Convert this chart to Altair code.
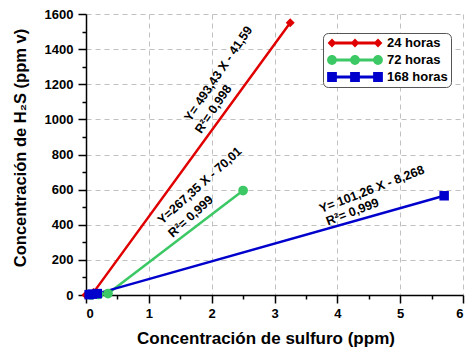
import altair as alt
import pandas as pd

# ---------------- data ----------------
series = ["24 horas", "72 horas", "168 horas"]
colors = ["#E00000", "#3CC864", "#0000CC"]
marker_shapes = ["diamond", "circle", "square"]
marker_sizes = [80, 95, 90]

x24 = [0.0, 0.07, 0.12, 3.25]
y24 = [0, 5, 15, 1550]
x72 = [0.08, 0.2, 0.35, 2.5]
y72 = [0, 3, 8, 595]
x168 = [0.05, 0.1, 0.18, 5.70]
y168 = [2, 5, 8, 565]

eq_text = ["Y= 493,43 X - 41,59", "R²= 0,998",
           "Y=267,35 X - 70,01", "R²= 0,999",
           "Y= 101,26 X - 8,268", "R²= 0,999"]
eq_x = [1.61, 1.78, 1.17, 1.34, 3.72, 3.83]
eq_y = [997, 928, 417, 342, 488, 417]
eq_angle = [304, 304, 318, 318, 339, 339]

x_major = [0, 1, 2, 3, 4, 5, 6]
x_minor = [0.5, 1.5, 2.5, 3.5, 4.5, 5.5]
y_major = [0, 200, 400, 600, 800, 1000, 1200, 1400, 1600]
y_minor = [100, 300, 500, 700, 900, 1100, 1300, 1500]

x_title = "Concentración de sulfuro (ppm)"
y_title = "Concentración de H₂S (ppm v)"

# ---------------- tables ----------------
rows = []
for s, xs, ys in zip(series, [x24, x72, x168], [y24, y72, y168]):
    for i, (xv, yv) in enumerate(zip(xs, ys)):
        rows.append({"series": s, "x": xv, "y": yv, "idx": i})
df = pd.DataFrame(rows)
ann = pd.DataFrame({"text": eq_text, "x": eq_x, "y": eq_y, "angle": eq_angle})
leg = pd.DataFrame({"series": series})

FONT = "Liberation Sans"
W, H = 377, 281

xscale = alt.Scale(domain=[0, 6], nice=False, zero=False)
yscale = alt.Scale(domain=[0, 1600], nice=False, zero=False)
cscale = alt.Scale(domain=series, range=colors)


# legend symbol paths: line with three markers, unit box -1..1
def legend_path(kind, r=0.17, h=0.05, c=0.8):
    p = f"M{-c},{-h}H{c}V{h}H{-c}Z"
    for cx in (-c, 0.0, c):
        if kind == "diamond":
            rr = r * 0.9
            p += f"M{cx - rr},0L{cx},{-rr}L{cx + rr},0L{cx},{rr}Z"
        elif kind == "circle":
            p += f"M{cx - r},0A{r},{r} 0 1,1 {cx + r},0A{r},{r} 0 1,1 {cx - r},0Z"
        else:
            p += f"M{cx - r},{-r}H{cx + r}V{r}H{cx - r}Z"
    return p


legend_paths = [legend_path(k) for k in marker_shapes]

axis_common = dict(
    domainColor="black", domainWidth=1.5, tickColor="black", tickWidth=1.5,
    labelFont=FONT, labelFontSize=13, labelFontWeight="bold", labelColor="black",
    titleFont=FONT, titleFontWeight="bold", titleColor="black",
    gridColor="#C0C0C0", gridDash=[5, 4], gridWidth=1,
)

# main layer carrying the major axes + grid (invisible marks)
base = alt.Chart(df).mark_point(opacity=0).encode(
    x=alt.X("x:Q", scale=xscale, axis=alt.Axis(
        values=x_major, title=x_title, grid=True, tickSize=8, labelPadding=4,
        titleX=W / 2 - 9, titleY=43, titleBaseline="middle", titleAlign="center",
        titleFontSize=17, orient="bottom", format="d", **axis_common)),
    y=alt.Y("y:Q", scale=yscale, axis=alt.Axis(
        values=y_major, title=y_title, grid=True, tickSize=8, labelPadding=5,
        titleX=-66, titleY=133.5, titleAngle=270, titleBaseline="middle",
        titleAlign="center", titleFontSize=16.5, orient="left", format="d",
        **axis_common)),
)

minor = alt.Chart(df).mark_point(opacity=0).encode(
    x=alt.X("x:Q", scale=xscale, axis=alt.Axis(
        values=x_minor, labels=False, grid=False, domain=False, tickSize=4,
        tickColor="black", tickWidth=1.5, title=None, orient="bottom")),
    y=alt.Y("y:Q", scale=yscale, axis=alt.Axis(
        values=y_minor, labels=False, grid=False, domain=False, tickSize=4,
        tickColor="black", tickWidth=1.5, title=None, orient="left")),
)

line_layers = []
point_layers = []
for s, c, shp, sz in zip(series, colors, marker_shapes, marker_sizes):
    sub = alt.Chart(df).transform_filter(alt.datum.series == s)
    line_layers.append(
        sub.mark_line(strokeWidth=2.5, color=c).encode(
            x=alt.X("x:Q", scale=xscale, axis=None),
            y=alt.Y("y:Q", scale=yscale, axis=None),
            order="idx:Q")
    )
    point_layers.append(
        sub.mark_point(shape=shp, filled=True, size=sz, color=c, opacity=1, strokeWidth=0)
        .encode(x=alt.X("x:Q", scale=xscale, axis=None),
                y=alt.Y("y:Q", scale=yscale, axis=None))
    )

texts = alt.Chart(ann).mark_text(
    align="left", baseline="middle", font=FONT, fontSize=12.5,
    fontWeight="bold", color="black",
).encode(
    x=alt.X("x:Q", scale=xscale, axis=None),
    y=alt.Y("y:Q", scale=yscale, axis=None),
    text="text:N",
    angle=alt.Angle("angle:Q", scale=None),
)

legend_def = alt.Legend(
    orient="none", legendX=237, legendY=19, title=None,
    padding=3, cornerRadius=5, strokeColor="#555555", fillColor="white",
    symbolSize=3306, symbolStrokeWidth=0, symbolOpacity=1,
    clipHeight=14, rowPadding=3, labelOffset=3,
    labelFont=FONT, labelFontSize=13, labelFontWeight="bold", labelColor="black",
)

legend_layer = alt.Chart(leg).mark_point(filled=True, opacity=0).encode(
    color=alt.Color("series:N", scale=cscale, legend=legend_def),
    shape=alt.Shape("series:N", scale=alt.Scale(domain=series, range=legend_paths),
                    legend=legend_def),
)

chart = alt.layer(base, minor, *line_layers, *point_layers, texts, legend_layer).resolve_axis(
    x="independent", y="independent"
).properties(
    width=W, height=H,
    autosize=alt.AutoSizeParams(type="none"),
    padding={"left": 86, "top": 14, "right": 11, "bottom": 58},
    background="white",
).configure_view(stroke=None)

chart.save("out.html", embed_options={"renderer": "svg", "actions": False})
